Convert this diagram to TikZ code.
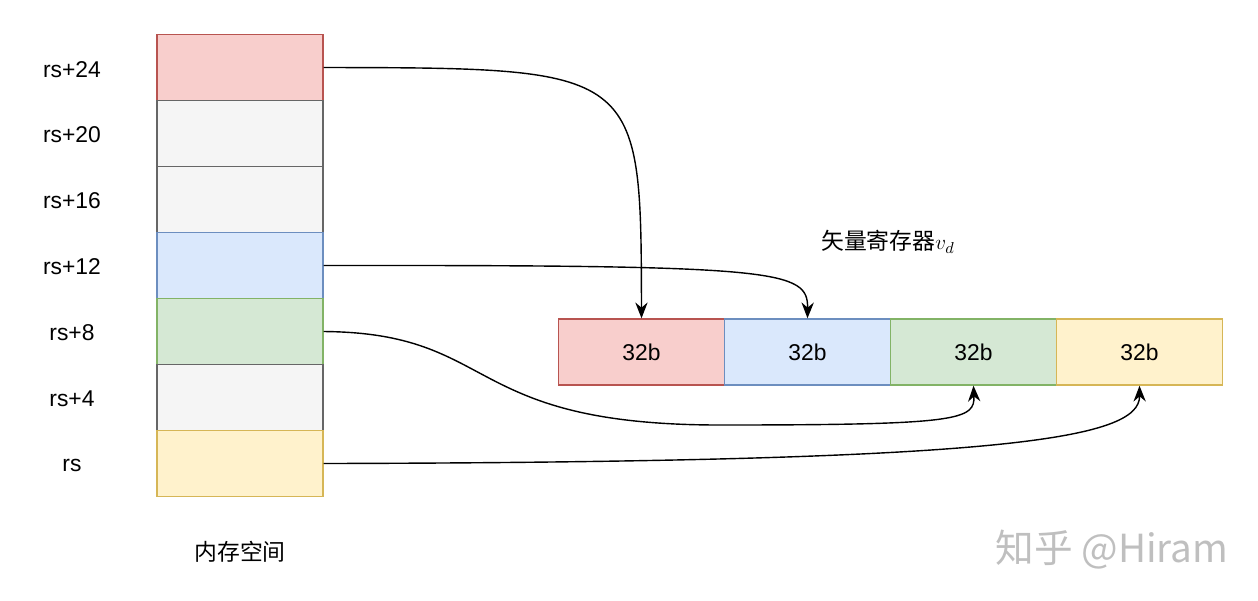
\documentclass[tikz,border=0pt]{standalone}
\usepackage{fontspec}
\setmainfont{Liberation Sans}
\newfontfamily\cjk{Noto Sans CJK SC}
\usetikzlibrary{arrows.meta}
\definecolor{rf}{HTML}{F8CECC}\definecolor{rs}{HTML}{B85450}
\definecolor{gf}{HTML}{F5F5F5}\definecolor{gs}{HTML}{666666}
\definecolor{bf}{HTML}{DAE8FC}\definecolor{bs}{HTML}{6C8EBF}
\definecolor{nf}{HTML}{D5E8D4}\definecolor{ns}{HTML}{82B366}
\definecolor{yf}{HTML}{FFF2CC}\definecolor{ys}{HTML}{D6B656}
\begin{document}
\begin{tikzpicture}[x=0.02cm,y=-0.02cm,
  cell/.style={minimum width=3.32cm,minimum height=1.32cm,inner sep=0,line width=0.8pt,font=\fontsize{13}{15}\selectfont},
  lbl/.style={font=\fontsize{13}{15}\selectfont},
  conn/.style={-{Stealth[length=9pt,width=7pt]},line width=0.8pt}]
\useasboundingbox (0,0) rectangle (1258,600);
\node[cell,fill=rf,draw=rs] (m24) at (240,67.5) {};
\node[cell,fill=gf,draw=gs] (m20) at (240,133.5) {};
\node[cell,fill=gf,draw=gs] (m16) at (240,199.5) {};
\node[cell,fill=bf,draw=bs] (m12) at (240,265.5) {};
\node[cell,fill=nf,draw=ns] (m8) at (240,331.5) {};
\node[cell,fill=gf,draw=gs] (m4) at (240,397.5) {};
\node[cell,fill=yf,draw=ys] (m0) at (240,463.5) {};
\node[lbl] (l24) at (72,70) {rs+24};
\node[lbl] (l20) at (72,135) {rs+20};
\node[lbl] (l16) at (72,201) {rs+16};
\node[lbl] (l12) at (72,267) {rs+12};
\node[lbl] (l8) at (72,333) {rs+8};
\node[lbl] (l4) at (72,399) {rs+4};
\node[lbl] (l0) at (72,465) {rs};
\node[lbl] (mt) at (240,552) {\cjk 内存空间};
\node[cell,fill=rf,draw=rs] (r0) at (641.5,352) {32b};
\node[cell,fill=bf,draw=bs] (r1) at (807.5,352) {32b};
\node[cell,fill=nf,draw=ns] (r2) at (973.5,352) {32b};
\node[cell,fill=yf,draw=ys] (r3) at (1139.5,352) {32b};
\node[lbl] (rt) at (888,242) {\cjk 矢量寄存器$v_d$};
\node[font=\fontsize{22}{24}\selectfont,text=black!25] (wm) at (1112,550) {\cjk 知乎 @Hiram};
\draw[conn] (m24.east) .. controls (641,68) .. (r0.north);
\draw[conn] (m12.east) .. controls (780,265) and (808,270) .. (r1.north);
\draw[conn] (m8.east) .. controls (500,333) and (460,425) .. (720,425) .. controls (960,425) and (975,420) .. (r2.south);
\draw[conn] (m0.east) .. controls (1000,462) and (1140,440) .. (r3.south);
\end{tikzpicture}
\end{document}
